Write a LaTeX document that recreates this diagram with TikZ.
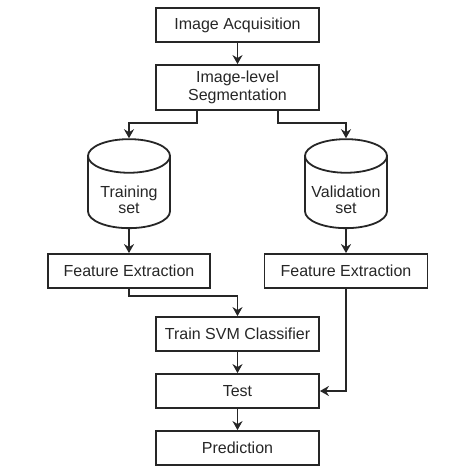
\documentclass[tikz,border=0pt]{standalone}
\usepackage{fontspec}
\setmainfont{Liberation Sans}
\usepackage{tikz}
\usetikzlibrary{positioning}
\usetikzlibrary{calc}
\usetikzlibrary{arrows.meta}
\usetikzlibrary{shapes.geometric}

\tikzset{
  stepbox/.style={draw, line width=1.8pt, minimum width=163pt, minimum height=34pt,
    inner sep=0pt, align=center, font=\fontsize{16}{18.5}\selectfont},
  dbase/.style={draw, line width=1.8pt, cylinder, shape border rotate=90, aspect=0.42,
    text width=80pt, minimum width=82pt, minimum height=89pt, inner sep=0pt},
  dbtext/.style={align=center, inner sep=0pt, font=\fontsize{16}{16}\selectfont},
  arr/.style={line width=1.8pt, -{Stealth[length=9pt,width=10pt]}}
}

\begin{document}
\begin{tikzpicture}[x=1pt, y=-1pt, color={black!85}]
        \useasboundingbox (0,0) rectangle (474,474);

        % Bloco superior
        \node[stepbox] (acq) at (237.5, 25) {Image Acquisition};
        \node[stepbox, minimum height=45pt] (seg) at (237.5, 87.5) {Image-level\\Segmentation};

        % Conjuntos de dados
        \node[dbase] (train) at (129, 192.5) {};
        \node[dbtext] (traintxt) at (129, 200) {Training\\set};
        \node[dbase] (valid) at (346, 192.5) {};
        \node[dbtext] (validtxt) at (346, 200) {Validation\\set};

        % Extracao de caracteristicas
        \node[stepbox, minimum width=162pt] (feat1) at (129, 271) {Feature Extraction};
        \node[stepbox] (feat2) at (346, 271) {Feature Extraction};

        % Classificador
        \node[stepbox] (svm) at (237.5, 334) {Train SVM Classifier};
        \node[stepbox] (test) at (237.5, 391) {Test};
        \node[stepbox] (pred) at (237.5, 448) {Prediction};

        % Conexoes
        \draw[arr] (acq) -- (seg);
        \draw[arr] ([xshift=-40.5pt]seg.south) -- ++(0,12) -| (train.north);
        \draw[arr] ([xshift=40.5pt]seg.south) -- ++(0,12) -| (valid.north);
        \draw[arr] (train.south) -- (feat1.north);
        \draw[arr] (valid.south) -- (feat2.north);
        \draw[arr] (feat1.south) -- ++(0,7) -| (svm.north);
        \draw[arr] (feat2.south) |- (test.east);
        \draw[arr] (svm) -- (test);
        \draw[arr] (test) -- (pred);
    \end{tikzpicture}
\end{document}
